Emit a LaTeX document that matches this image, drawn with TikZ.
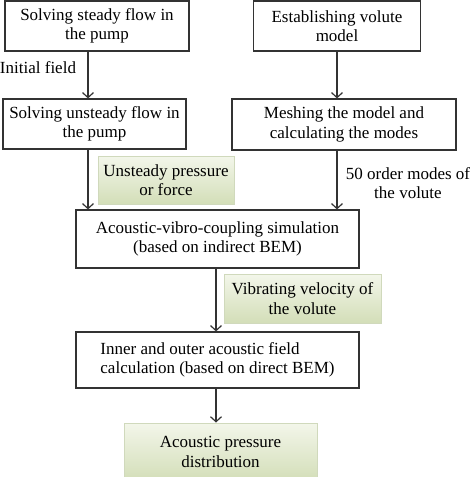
\documentclass[tikz,border=0pt]{standalone}
\usepackage{fontspec}
\setmainfont{Liberation Serif}
\usepackage{xcolor}
\usepackage{tikz}
\usetikzlibrary{arrows.meta,positioning}
\definecolor{lnk}{HTML}{333333}
\definecolor{grntop}{HTML}{F3F6EA}
\definecolor{grnbot}{HTML}{D3DEB8}
\definecolor{grnline}{HTML}{D0D9BC}
\begin{document}
\begin{tikzpicture}[x=1pt,y=-1pt,
          stage/.style={draw=lnk,line width=1.2pt,fill=white,align=center,inner sep=2pt,font=\fontsize{17}{19.5}\selectfont},
          result/.style={draw=grnline,line width=1pt,top color=grntop,bottom color=grnbot,align=center,inner sep=2pt,font=\fontsize{17}{19.5}\selectfont},
          lbl/.style={align=center,inner sep=1pt,font=\fontsize{17}{19.5}\selectfont},
          flow/.style={draw=lnk,line width=1.2pt,-{Straight Barb[length=5pt,width=11pt]}}]
        \useasboundingbox (0,0) rectangle (474,477);
        \node[stage,minimum width=184pt,minimum height=50pt] (steady)   at (97,26)    {Solving steady flow in\\the pump};
        \node[stage,minimum width=167pt,minimum height=50pt] (volute)   at (337,26)   {Establishing volute\\model};
        \node[stage,minimum width=183pt,minimum height=50pt] (unsteady) at (94.5,124) {Solving unsteady flow in\\the pump};
        \node[stage,minimum width=224pt,minimum height=51pt] (mesh)     at (344,124.5){Meshing the model and\\calculating the modes};
        \node[stage,minimum width=283pt,minimum height=58pt] (couple)   at (217.5,239){Acoustic-vibro-coupling simulation\\(based on indirect BEM)};
        \node[stage,minimum width=283pt,minimum height=56pt,align=left] (field) at (217.5,360) {Inner and outer acoustic field\\calculation (based on direct BEM)};
        \node[result,minimum width=136pt,minimum height=48pt] (force)   at (166,180)   {Unsteady pressure\\or force};
        \node[result,minimum width=157pt,minimum height=49pt] (velo)    at (302.5,298.5) {Vibrating velocity of\\the volute};
        \node[result,minimum width=193pt,minimum height=58pt] (press)   at (220.5,452) {Acoustic pressure\\distribution};
        \node[lbl] (init)  at (38,68)  {Initial field};
        \node[lbl] (modes) at (408,183) {50 order modes of\\the volute};
        \draw[flow] (steady.south -| 88,0)   -- (unsteady.north -| 88,0);
        \draw[flow] (volute.south)           -- (volute |- mesh.north);
        \draw[flow] (unsteady.south -| 88,0) -- (couple.north -| 88,0);
        \draw[flow] (volute |- mesh.south)   -- (volute |- couple.north);
        \draw[flow] (couple.south -| 216,0)  -- (field.north -| 216,0);
        \draw[flow] (field.south -| 216,0)   -- (press.north -| 216,0);
      \end{tikzpicture}
\end{document}
